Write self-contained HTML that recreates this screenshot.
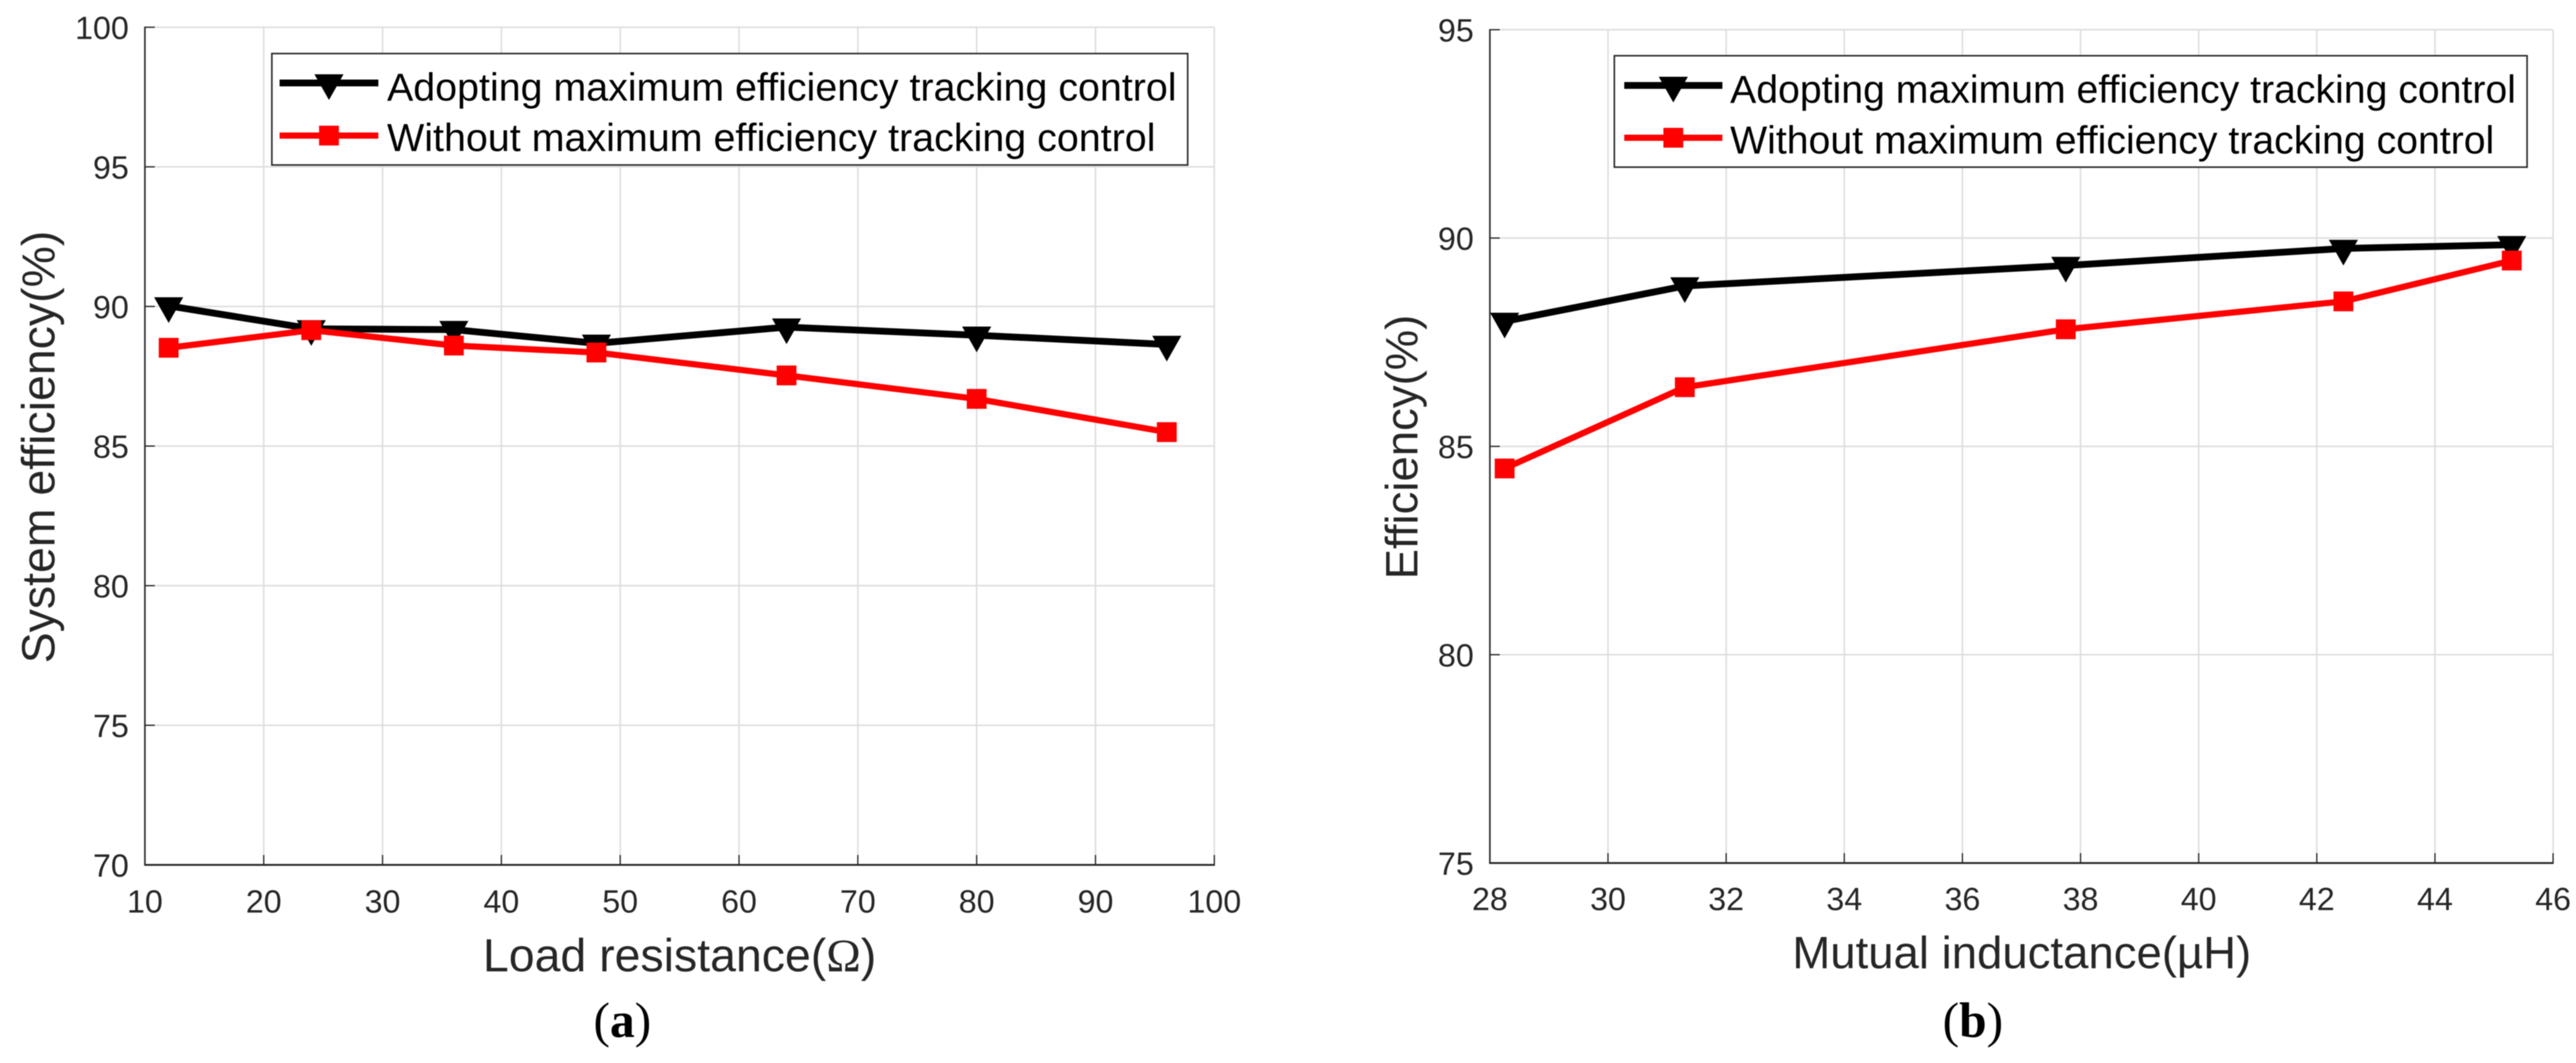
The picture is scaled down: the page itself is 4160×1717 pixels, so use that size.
<!DOCTYPE html>
<html lang="en">
<head>
<meta charset="utf-8">
<title>Efficiency comparison charts</title>
<style>
  html, body { margin: 0; padding: 0; background: #fff; }
  #figure { display: block; width: 4160px; height: 1717px; font-family: "Liberation Sans", Arial, sans-serif; filter: blur(0.8px); }
</style>
</head>
<body>
<svg id="figure" xmlns="http://www.w3.org/2000/svg" width="4160" height="1717" viewBox="0 0 4160 1717"></svg>
<script>
// ---- Chart (a) data ----
const loadResistance = [12, 24, 36, 48, 64, 80, 96];
const adoptingA = [90.02, 89.2, 89.17, 88.68, 89.26, 88.97, 88.64];
const withoutA = [88.52, 89.15, 88.6, 88.35, 87.53, 86.69, 85.5];
const xTicksA = [10, 20, 30, 40, 50, 60, 70, 80, 90, 100];
const yTicksA = [70, 75, 80, 85, 90, 95, 100];

// ---- Chart (b) data ----
const mutualInductance = [28.25, 31.3, 37.75, 42.45, 45.3];
const adoptingB = [88.0, 88.85, 89.34, 89.75, 89.84];
const withoutB = [84.47, 86.42, 87.81, 88.48, 89.46];
const xTicksB = [28, 30, 32, 34, 36, 38, 40, 42, 44, 46];
const yTicksB = [75, 80, 85, 90, 95];

// ---- Legend text ----
const legendLabels = ['Adopting maximum efficiency tracking control', 'Without maximum efficiency tracking control'];

const SVG_NS = 'http://www.w3.org/2000/svg';
const figure = document.getElementById('figure');

function make(tag, parent, name, attrs, text) {
  const el = document.createElementNS(SVG_NS, tag);
  
  
  for (const k in attrs) el.setAttribute(k, attrs[k]);
  if (text !== undefined) el.textContent = text;
  parent.appendChild(el);
  return el;
}

function triangle(parent, name, cx, cy) {
  const pts = [[cx - 23.5, cy - 14], [cx + 23.5, cy - 14], [cx, cy + 27.5]];
  return make('polygon', parent, name, { points: pts.map(p => p.join(',')).join(' '), fill: '#000' });
}

function square(parent, name, cx, cy) {
  return make('rect', parent, name, { x: cx - 16, y: cy - 16, width: 32, height: 32, fill: '#f00' });
}

function drawChart(cfg) {
  const g = make('g', figure, cfg.id, {});
  const xMin = cfg.xTicks[0], xMax = cfg.xTicks[cfg.xTicks.length - 1];
  const yMin = cfg.yTicks[0], yMax = cfg.yTicks[cfg.yTicks.length - 1];
  const sx = v => cfg.left + (v - xMin) / (xMax - xMin) * (cfg.right - cfg.left);
  const sy = v => cfg.bottom - (v - yMin) / (yMax - yMin) * (cfg.bottom - cfg.top);

  // grid
  cfg.xTicks.forEach(t => {
    if (t === xMin) return;
    make('line', g, 'x-gridline', { x1: sx(t), x2: sx(t), y1: cfg.top, y2: cfg.bottom, stroke: '#dedede', 'stroke-width': 2.5 });
  });
  cfg.yTicks.forEach(t => {
    if (t === yMin) return;
    make('line', g, 'y-gridline', { x1: cfg.left, x2: cfg.right, y1: sy(t), y2: sy(t), stroke: '#dedede', 'stroke-width': 2.5 });
  });

  // axes
  make('line', g, 'y-axis-line', { x1: cfg.left, x2: cfg.left, y1: cfg.top - 1, y2: cfg.bottom + 1.5, stroke: '#262626', 'stroke-width': 2.5 });
  make('line', g, 'x-axis-line', { x1: cfg.left, x2: cfg.right + 1, y1: cfg.bottom, y2: cfg.bottom, stroke: '#262626', 'stroke-width': 3 });

  // ticks + labels
  cfg.xTicks.forEach(t => {
    make('line', g, 'x-tick', { x1: sx(t), x2: sx(t), y1: cfg.bottom, y2: cfg.bottom - 16, stroke: '#262626', 'stroke-width': 2 });
    make('text', g, 'x-tick-label', { x: sx(t), y: cfg.xTickBase, 'text-anchor': 'middle', 'font-size': cfg.tickFont, fill: '#262626' }, String(t));
  });
  cfg.yTicks.forEach(t => {
    make('line', g, 'y-tick', { x1: cfg.left, x2: cfg.left + 16, y1: sy(t), y2: sy(t), stroke: '#262626', 'stroke-width': 2 });
    make('text', g, 'y-tick-label', { x: cfg.left - 26, y: sy(t) + 19, 'text-anchor': 'end', 'font-size': cfg.tickFont, fill: '#262626' }, String(t));
  });

  // series: black first, red on top
  const toPoints = (xs, ys) => xs.map((x, i) => sx(x) + ',' + sy(ys[i])).join(' ');
  const blackGroup = make('g', g, 'series-adopting-control', {});
  make('polyline', blackGroup, 'adopting-control-line', { points: toPoints(cfg.xs, cfg.black), fill: 'none', stroke: '#000', 'stroke-width': 11, 'stroke-linejoin': 'round' });
  cfg.xs.forEach((x, i) => triangle(blackGroup, 'adopting-control-marker', sx(x), sy(cfg.black[i])));
  const redGroup = make('g', g, 'series-without-control', {});
  make('polyline', redGroup, 'without-control-line', { points: toPoints(cfg.xs, cfg.red), fill: 'none', stroke: '#f00', 'stroke-width': 10, 'stroke-linejoin': 'round' });
  cfg.xs.forEach((x, i) => square(redGroup, 'without-control-marker', sx(x), sy(cfg.red[i])));

  // legend
  const L = cfg.legend;
  const lg = make('g', g, 'legend', {});
  make('rect', lg, 'legend-box', { x: L.x, y: L.y, width: L.w, height: L.h, fill: '#fff', stroke: '#262626', 'stroke-width': 2.5 });
  make('line', lg, 'legend-line-adopting', { x1: L.lineX1, x2: L.lineX2, y1: L.rowY[0], y2: L.rowY[0], stroke: '#000', 'stroke-width': 11 });
  triangle(lg, 'legend-marker-adopting', (L.lineX1 + L.lineX2) / 2, L.rowY[0]);
  make('line', lg, 'legend-line-without', { x1: L.lineX1, x2: L.lineX2, y1: L.rowY[1], y2: L.rowY[1], stroke: '#f00', 'stroke-width': 10 });
  square(lg, 'legend-marker-without', (L.lineX1 + L.lineX2) / 2, L.rowY[1]);
  legendLabels.forEach((s, i) => {
    make('text', lg, 'legend-label', { x: L.textX, y: L.base[i], 'font-size': L.font, fill: '#000', textLength: L.lengths[i], lengthAdjust: 'spacingAndGlyphs' }, s);
  });

  // axis titles
  const xt = make('text', g, 'x-axis-title', { x: cfg.xTitle.x, y: cfg.xTitle.y, 'text-anchor': 'middle', 'font-size': cfg.xTitle.font, fill: '#262626' }, cfg.xTitle.text);
  if (cfg.xTitle.omega) {
    make('tspan', xt, 'omega-symbol', { 'font-family': '"Liberation Serif", serif' }, '\u03A9');
    make('tspan', xt, 'closing-paren', {}, ')');
  }
  make('text', g, 'y-axis-title', { transform: 'translate(' + cfg.yTitle.x + ',' + cfg.yTitle.y + ') rotate(-90)', 'text-anchor': 'middle', 'font-size': cfg.yTitle.font, fill: '#262626' }, cfg.yTitle.text);

  // caption
  const cap = make('text', g, 'panel-caption', { x: cfg.caption.x, y: 1675, 'text-anchor': 'middle', 'font-size': 80, fill: '#000', 'font-family': '"Liberation Serif", serif' }, '(');
  make('tspan', cap, 'panel-letter', { 'font-weight': 'bold' }, cfg.caption.letter);
  make('tspan', cap, 'panel-caption-close', {}, ')');
}

drawChart({
  id: 'chart-a',
  xs: loadResistance, black: adoptingA, red: withoutA, xTicks: xTicksA, yTicks: yTicksA,
  left: 234, right: 1961, top: 44, bottom: 1397,
  tickFont: 52, xTickBase: 1474,
  legend: { x: 439, y: 86.5, w: 1479, h: 180, lineX1: 451.5, lineX2: 611, rowY: [134, 219], textX: 625, base: [162.5, 244], font: 63.5, lengths: [1275, 1241] },
  xTitle: { x: 1097.5, y: 1569, font: 75, text: 'Load resistance(', omega: true },
  yTitle: { x: 88, y: 722, font: 75, text: 'System efficiency(%)' },
  caption: { x: 1005, letter: 'a' }
});

drawChart({
  id: 'chart-b',
  xs: mutualInductance, black: adoptingB, red: withoutB, xTicks: xTicksB, yTicks: yTicksB,
  left: 2406, right: 4123, top: 48, bottom: 1394,
  tickFont: 52, xTickBase: 1470,
  legend: { x: 2607, y: 90, w: 1474, h: 180, lineX1: 2623, lineX2: 2781.5, rowY: [138, 222.5], textX: 2794, base: [166, 248], font: 63.5, lengths: [1269, 1234] },
  xTitle: { x: 3265, y: 1564, font: 73.5, text: 'Mutual inductance(\u00B5H)' },
  yTitle: { x: 2289, y: 722, font: 73.5, text: 'Efficiency(%)' },
  caption: { x: 3186, letter: 'b' }
});
</script>
</body>
</html>
